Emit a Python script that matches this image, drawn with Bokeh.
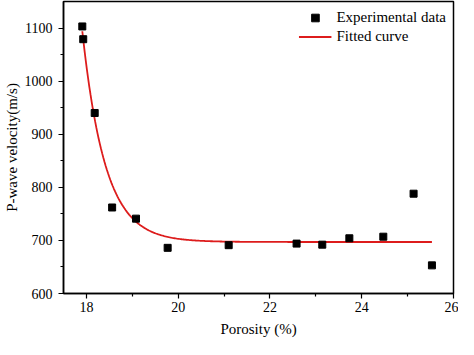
import numpy as np
from bokeh.plotting import figure
from bokeh.models import FixedTicker, Legend, LegendItem
from bokeh.embed import file_html
from bokeh.resources import INLINE

porosity = [17.91, 17.93, 18.18, 18.56, 19.08, 19.77, 21.10, 22.58, 23.14, 23.73, 24.47, 25.13, 25.53]
velocity = [1103, 1079, 940, 762, 741, 686, 691, 694, 692, 704, 707, 788, 653]

# Fitted exponential-decay curve parameters: y = y0 + A*exp(-(x - x0)/t)
fit_y0 = 697.0
fit_A = 397.0
fit_x0 = 17.91
fit_t = 0.5
fit_x_start = 17.91
fit_x_end = 25.53

x_ticks = [18, 20, 22, 24, 26]
x_minor = [19, 21, 23, 25]
y_ticks = [600, 700, 800, 900, 1000, 1100]
y_minor = [650, 750, 850, 950, 1050]

x_title = "Porosity (%)"
y_title = "P-wave velocity(m/s)"

fx = np.linspace(fit_x_start, fit_x_end, 300)
fy = fit_y0 + fit_A * np.exp(-(fx - fit_x0) / fit_t)

FONT = "Liberation Serif"
FS_TICK = "14px"
FS = "15px"

p = figure(width=458, height=339, x_range=(17.5, 26), y_range=(600, 1150),
           output_backend="svg", toolbar_location=None,
           min_border_top=1, min_border_right=5, min_border_left=0, min_border_bottom=30)

p.xgrid.visible = False
p.ygrid.visible = False
p.outline_line_color = "black"
p.outline_line_width = 1.5
p.outline_line_alpha = 1.0

line_r = p.line(fx, fy, line_color="#dd1c1c", line_width=1.8)
pts_r = p.scatter(porosity, velocity, marker="square", size=7, fill_color="black", line_color="black")

for ax in (p.xaxis[0], p.yaxis[0]):
    ax.axis_line_color = "black"
    ax.axis_line_width = 1.5
    ax.major_tick_line_color = "black"
    ax.major_tick_line_width = 1.2
    ax.minor_tick_line_color = "black"
    ax.minor_tick_line_width = 1.2
    ax.major_tick_out = 5
    ax.major_tick_in = 0
    ax.minor_tick_out = 3
    ax.minor_tick_in = 0
    ax.major_label_text_font = FONT
    ax.major_label_text_font_size = FS_TICK
    ax.major_label_text_color = "black"
    ax.axis_label_text_font = FONT
    ax.axis_label_text_font_size = FS
    ax.axis_label_text_font_style = "normal"
    ax.axis_label_text_color = "black"

p.xaxis[0].ticker = FixedTicker(ticks=x_ticks, minor_ticks=x_minor)
p.yaxis[0].ticker = FixedTicker(ticks=y_ticks, minor_ticks=y_minor)
p.xaxis[0].axis_label = x_title
p.yaxis[0].axis_label = y_title
p.xaxis[0].major_label_standoff = 3
p.xaxis[0].axis_label_standoff = 6
p.yaxis[0].major_label_standoff = 6
p.yaxis[0].axis_label_standoff = 2

legend = Legend(items=[LegendItem(label="Experimental data", renderers=[pts_r]),
                       LegendItem(label="Fitted curve", renderers=[line_r])],
                location="top_right")
legend.label_text_font = FONT
legend.label_text_font_size = FS
legend.label_text_color = "black"
legend.label_height = 19
legend.glyph_height = 19
legend.glyph_width = 33
legend.label_standoff = 5
legend.spacing = 0
legend.padding = 5
legend.margin = 2
legend.background_fill_alpha = 0
legend.border_line_alpha = 0
p.add_layout(legend)

open("out.html", "w").write(file_html(p, INLINE))
